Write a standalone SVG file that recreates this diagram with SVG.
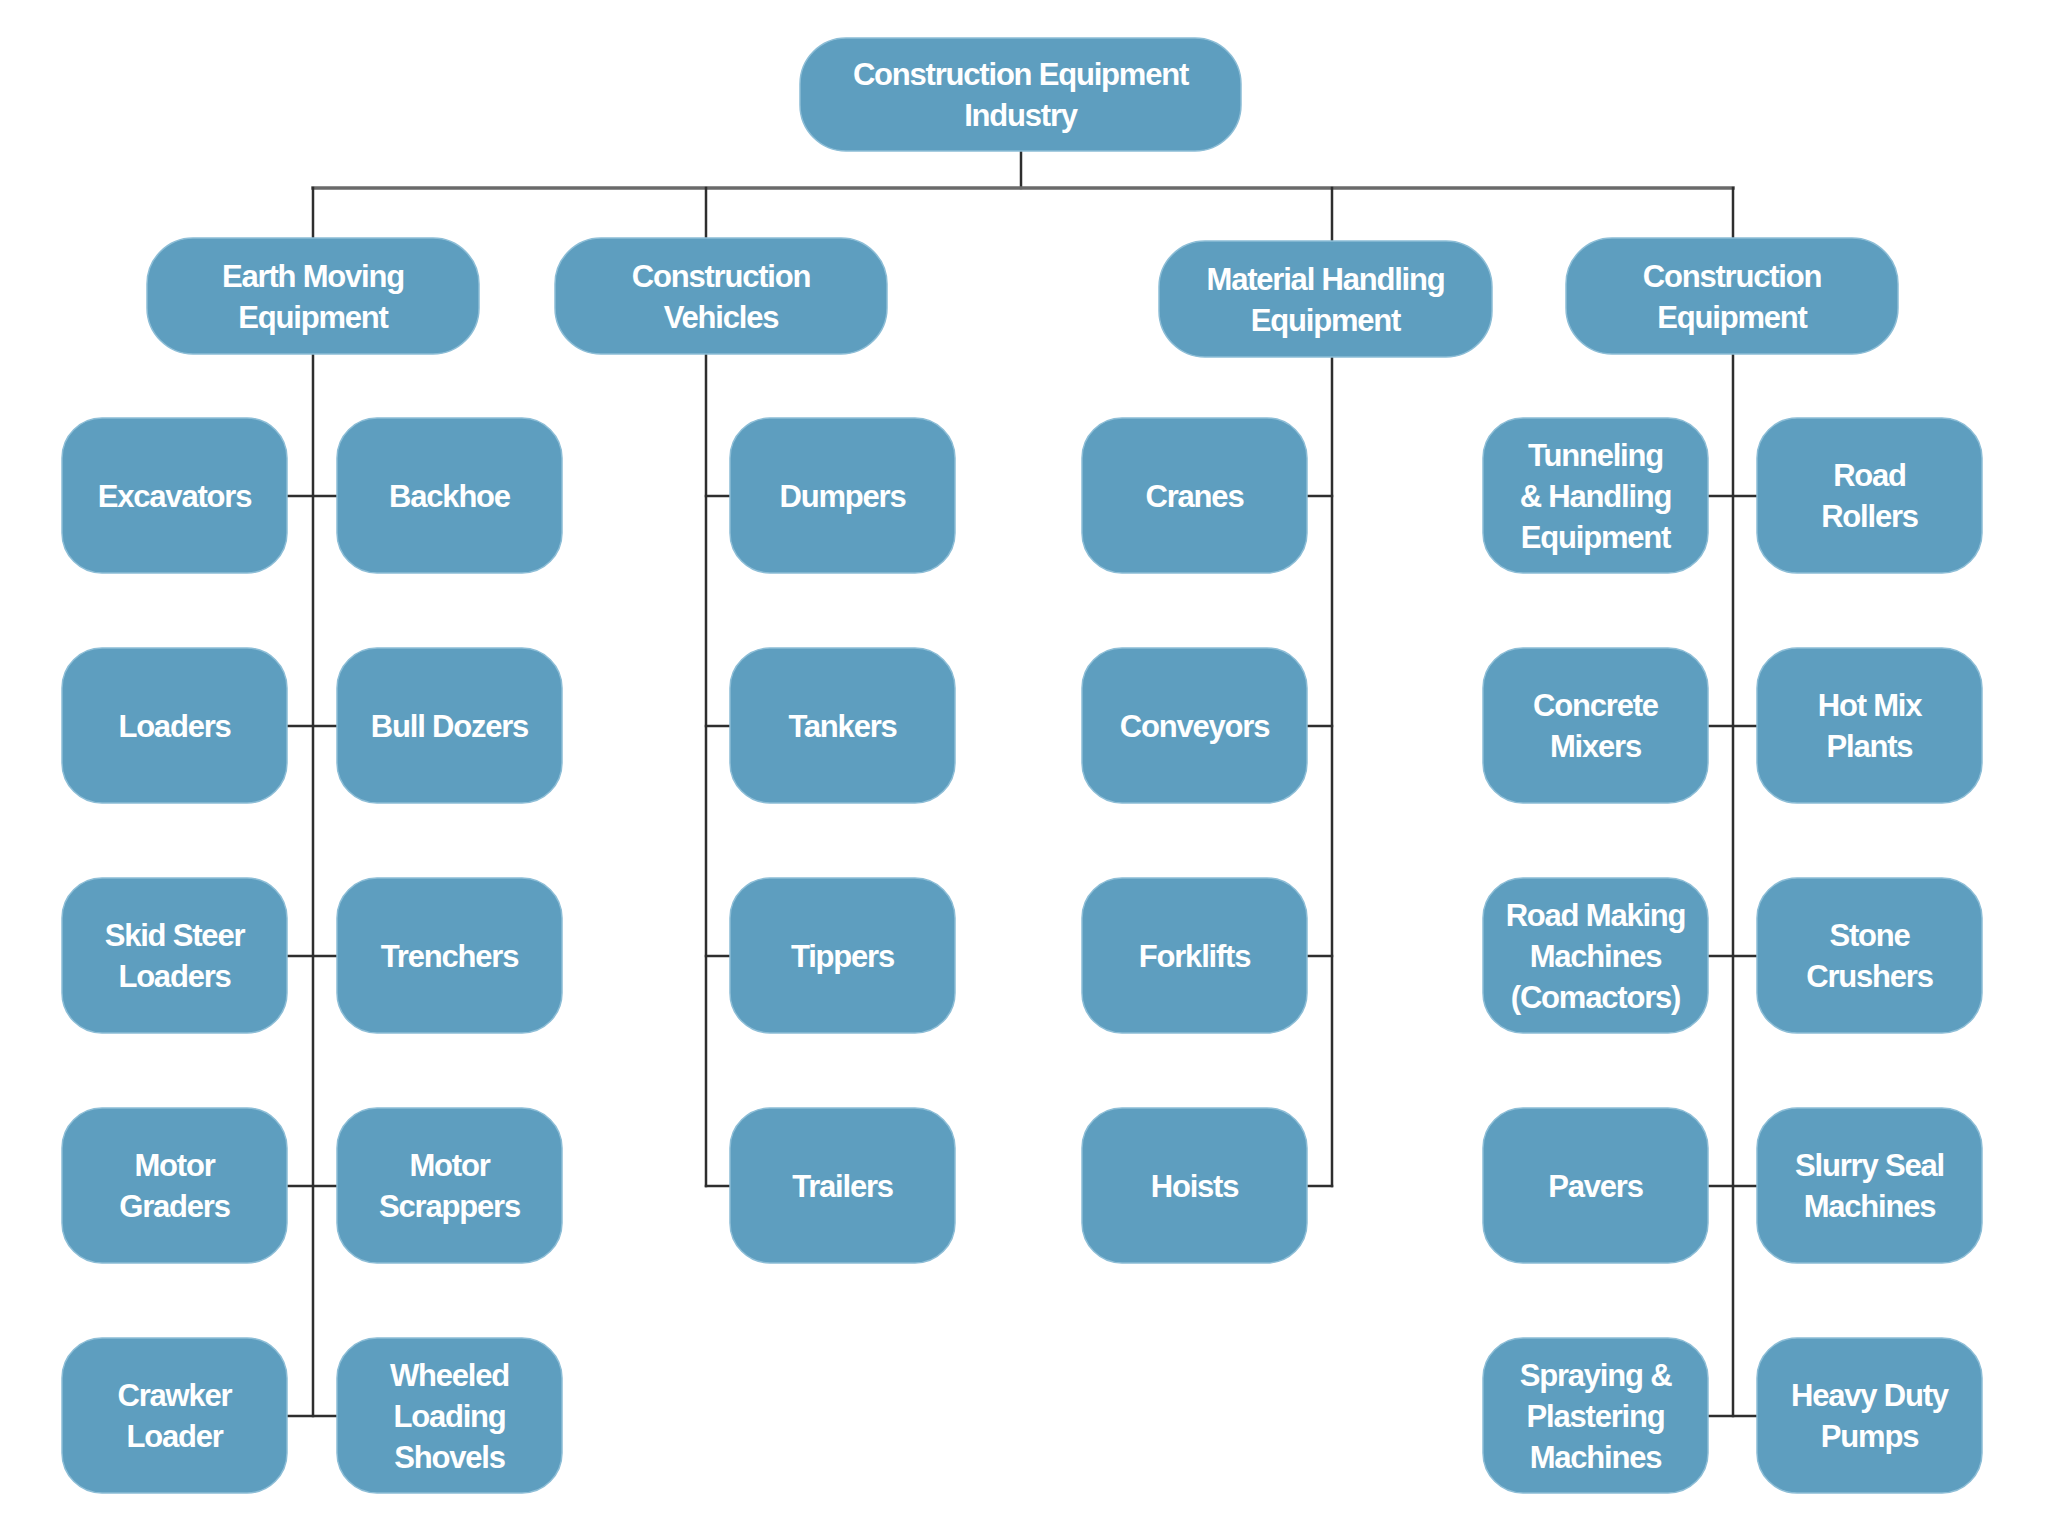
<svg xmlns="http://www.w3.org/2000/svg" width="2048" height="1536" viewBox="0 0 2048 1536">
<style>
.node rect{fill:#5e9ebf;stroke:#8cbdd6;stroke-width:1.5}
.node text{fill:#ffffff;font-family:"Liberation Sans",Arial,sans-serif;font-weight:bold;font-size:31px;letter-spacing:-1.2px;text-anchor:middle}
.conn line{stroke:#2e2e2e;stroke-width:2.5;stroke-linecap:square}
.conn .bus{stroke:#6a6a6a;stroke-width:3.5}
</style>
<rect width="2048" height="1536" fill="#ffffff"/>
<g id="connectors" class="conn">
<line x1="1021" y1="151" x2="1021" y2="188"/>
<line class="bus" x1="313" y1="188" x2="1733" y2="188"/>
<line x1="313" y1="188" x2="313" y2="238"/>
<line x1="706" y1="188" x2="706" y2="238"/>
<line x1="1332" y1="188" x2="1332" y2="241"/>
<line x1="1733" y1="188" x2="1733" y2="238"/>
<line x1="313" y1="354" x2="313" y2="1416"/>
<line x1="287" y1="496" x2="337" y2="496"/>
<line x1="287" y1="726" x2="337" y2="726"/>
<line x1="287" y1="956" x2="337" y2="956"/>
<line x1="287" y1="1186" x2="337" y2="1186"/>
<line x1="287" y1="1416" x2="337" y2="1416"/>
<line x1="706" y1="354" x2="706" y2="1186"/>
<line x1="706" y1="496" x2="730" y2="496"/>
<line x1="706" y1="726" x2="730" y2="726"/>
<line x1="706" y1="956" x2="730" y2="956"/>
<line x1="706" y1="1186" x2="730" y2="1186"/>
<line x1="1332" y1="357" x2="1332" y2="1186"/>
<line x1="1307" y1="496" x2="1332" y2="496"/>
<line x1="1307" y1="726" x2="1332" y2="726"/>
<line x1="1307" y1="956" x2="1332" y2="956"/>
<line x1="1307" y1="1186" x2="1332" y2="1186"/>
<line x1="1733" y1="354" x2="1733" y2="1416"/>
<line x1="1708" y1="496" x2="1757" y2="496"/>
<line x1="1708" y1="726" x2="1757" y2="726"/>
<line x1="1708" y1="956" x2="1757" y2="956"/>
<line x1="1708" y1="1186" x2="1757" y2="1186"/>
<line x1="1708" y1="1416" x2="1757" y2="1416"/>
</g>
<g id="n-root" class="node"><rect x="800" y="38" width="441" height="113" rx="46"/><text x="1020.5" y="85">Construction Equipment</text><text x="1020.5" y="126">Industry</text></g>
<g id="n-earth" class="node"><rect x="147" y="238" width="332" height="116" rx="46"/><text x="313" y="286.5">Earth Moving</text><text x="313" y="327.5">Equipment</text></g>
<g id="n-vehicles" class="node"><rect x="555" y="238" width="332" height="116" rx="46"/><text x="721" y="286.5">Construction</text><text x="721" y="327.5">Vehicles</text></g>
<g id="n-material" class="node"><rect x="1159" y="241" width="333" height="116" rx="46"/><text x="1325.5" y="289.5">Material Handling</text><text x="1325.5" y="330.5">Equipment</text></g>
<g id="n-constr" class="node"><rect x="1566" y="238" width="332" height="116" rx="46"/><text x="1732" y="286.5">Construction</text><text x="1732" y="327.5">Equipment</text></g>

<g id="n-excavators" class="node"><rect x="62" y="418" width="225" height="155" rx="40"/><text x="174.5" y="506.5">Excavators</text></g>
<g id="n-loaders" class="node"><rect x="62" y="648" width="225" height="155" rx="40"/><text x="174.5" y="736.5">Loaders</text></g>
<g id="n-skid" class="node"><rect x="62" y="878" width="225" height="155" rx="40"/><text x="174.5" y="946">Skid Steer</text><text x="174.5" y="987">Loaders</text></g>
<g id="n-graders" class="node"><rect x="62" y="1108" width="225" height="155" rx="40"/><text x="174.5" y="1176">Motor</text><text x="174.5" y="1217">Graders</text></g>
<g id="n-crawker" class="node"><rect x="62" y="1338" width="225" height="155" rx="40"/><text x="174.5" y="1406">Crawker</text><text x="174.5" y="1447">Loader</text></g>

<g id="n-backhoe" class="node"><rect x="337" y="418" width="225" height="155" rx="40"/><text x="449.5" y="506.5">Backhoe</text></g>
<g id="n-bulldozers" class="node"><rect x="337" y="648" width="225" height="155" rx="40"/><text x="449.5" y="736.5">Bull Dozers</text></g>
<g id="n-trenchers" class="node"><rect x="337" y="878" width="225" height="155" rx="40"/><text x="449.5" y="966.5">Trenchers</text></g>
<g id="n-scrappers" class="node"><rect x="337" y="1108" width="225" height="155" rx="40"/><text x="449.5" y="1176">Motor</text><text x="449.5" y="1217">Scrappers</text></g>
<g id="n-shovels" class="node"><rect x="337" y="1338" width="225" height="155" rx="40"/><text x="449.5" y="1385.5">Wheeled</text><text x="449.5" y="1426.5">Loading</text><text x="449.5" y="1467.5">Shovels</text></g>

<g id="n-dumpers" class="node"><rect x="730" y="418" width="225" height="155" rx="40"/><text x="842.5" y="506.5">Dumpers</text></g>
<g id="n-tankers" class="node"><rect x="730" y="648" width="225" height="155" rx="40"/><text x="842.5" y="736.5">Tankers</text></g>
<g id="n-tippers" class="node"><rect x="730" y="878" width="225" height="155" rx="40"/><text x="842.5" y="966.5">Tippers</text></g>
<g id="n-trailers" class="node"><rect x="730" y="1108" width="225" height="155" rx="40"/><text x="842.5" y="1196.5">Trailers</text></g>

<g id="n-cranes" class="node"><rect x="1082" y="418" width="225" height="155" rx="40"/><text x="1194.5" y="506.5">Cranes</text></g>
<g id="n-conveyors" class="node"><rect x="1082" y="648" width="225" height="155" rx="40"/><text x="1194.5" y="736.5">Conveyors</text></g>
<g id="n-forklifts" class="node"><rect x="1082" y="878" width="225" height="155" rx="40"/><text x="1194.5" y="966.5">Forklifts</text></g>
<g id="n-hoists" class="node"><rect x="1082" y="1108" width="225" height="155" rx="40"/><text x="1194.5" y="1196.5">Hoists</text></g>

<g id="n-tunneling" class="node"><rect x="1483" y="418" width="225" height="155" rx="40"/><text x="1595.5" y="465.5">Tunneling</text><text x="1595.5" y="506.5">&amp; Handling</text><text x="1595.5" y="547.5">Equipment</text></g>
<g id="n-mixers" class="node"><rect x="1483" y="648" width="225" height="155" rx="40"/><text x="1595.5" y="716">Concrete</text><text x="1595.5" y="757">Mixers</text></g>
<g id="n-roadmaking" class="node"><rect x="1483" y="878" width="225" height="155" rx="40"/><text x="1595.5" y="925.5">Road Making</text><text x="1595.5" y="966.5">Machines</text><text x="1595.5" y="1007.5">(Comactors)</text></g>
<g id="n-pavers" class="node"><rect x="1483" y="1108" width="225" height="155" rx="40"/><text x="1595.5" y="1196.5">Pavers</text></g>
<g id="n-spraying" class="node"><rect x="1483" y="1338" width="225" height="155" rx="40"/><text x="1595.5" y="1385.5">Spraying &amp;</text><text x="1595.5" y="1426.5">Plastering</text><text x="1595.5" y="1467.5">Machines</text></g>

<g id="n-rollers" class="node"><rect x="1757" y="418" width="225" height="155" rx="40"/><text x="1869.5" y="486">Road</text><text x="1869.5" y="527">Rollers</text></g>
<g id="n-hotmix" class="node"><rect x="1757" y="648" width="225" height="155" rx="40"/><text x="1869.5" y="716">Hot Mix</text><text x="1869.5" y="757">Plants</text></g>
<g id="n-crushers" class="node"><rect x="1757" y="878" width="225" height="155" rx="40"/><text x="1869.5" y="946">Stone</text><text x="1869.5" y="987">Crushers</text></g>
<g id="n-slurry" class="node"><rect x="1757" y="1108" width="225" height="155" rx="40"/><text x="1869.5" y="1176">Slurry Seal</text><text x="1869.5" y="1217">Machines</text></g>
<g id="n-pumps" class="node"><rect x="1757" y="1338" width="225" height="155" rx="40"/><text x="1869.5" y="1406">Heavy Duty</text><text x="1869.5" y="1447">Pumps</text></g>
</svg>
